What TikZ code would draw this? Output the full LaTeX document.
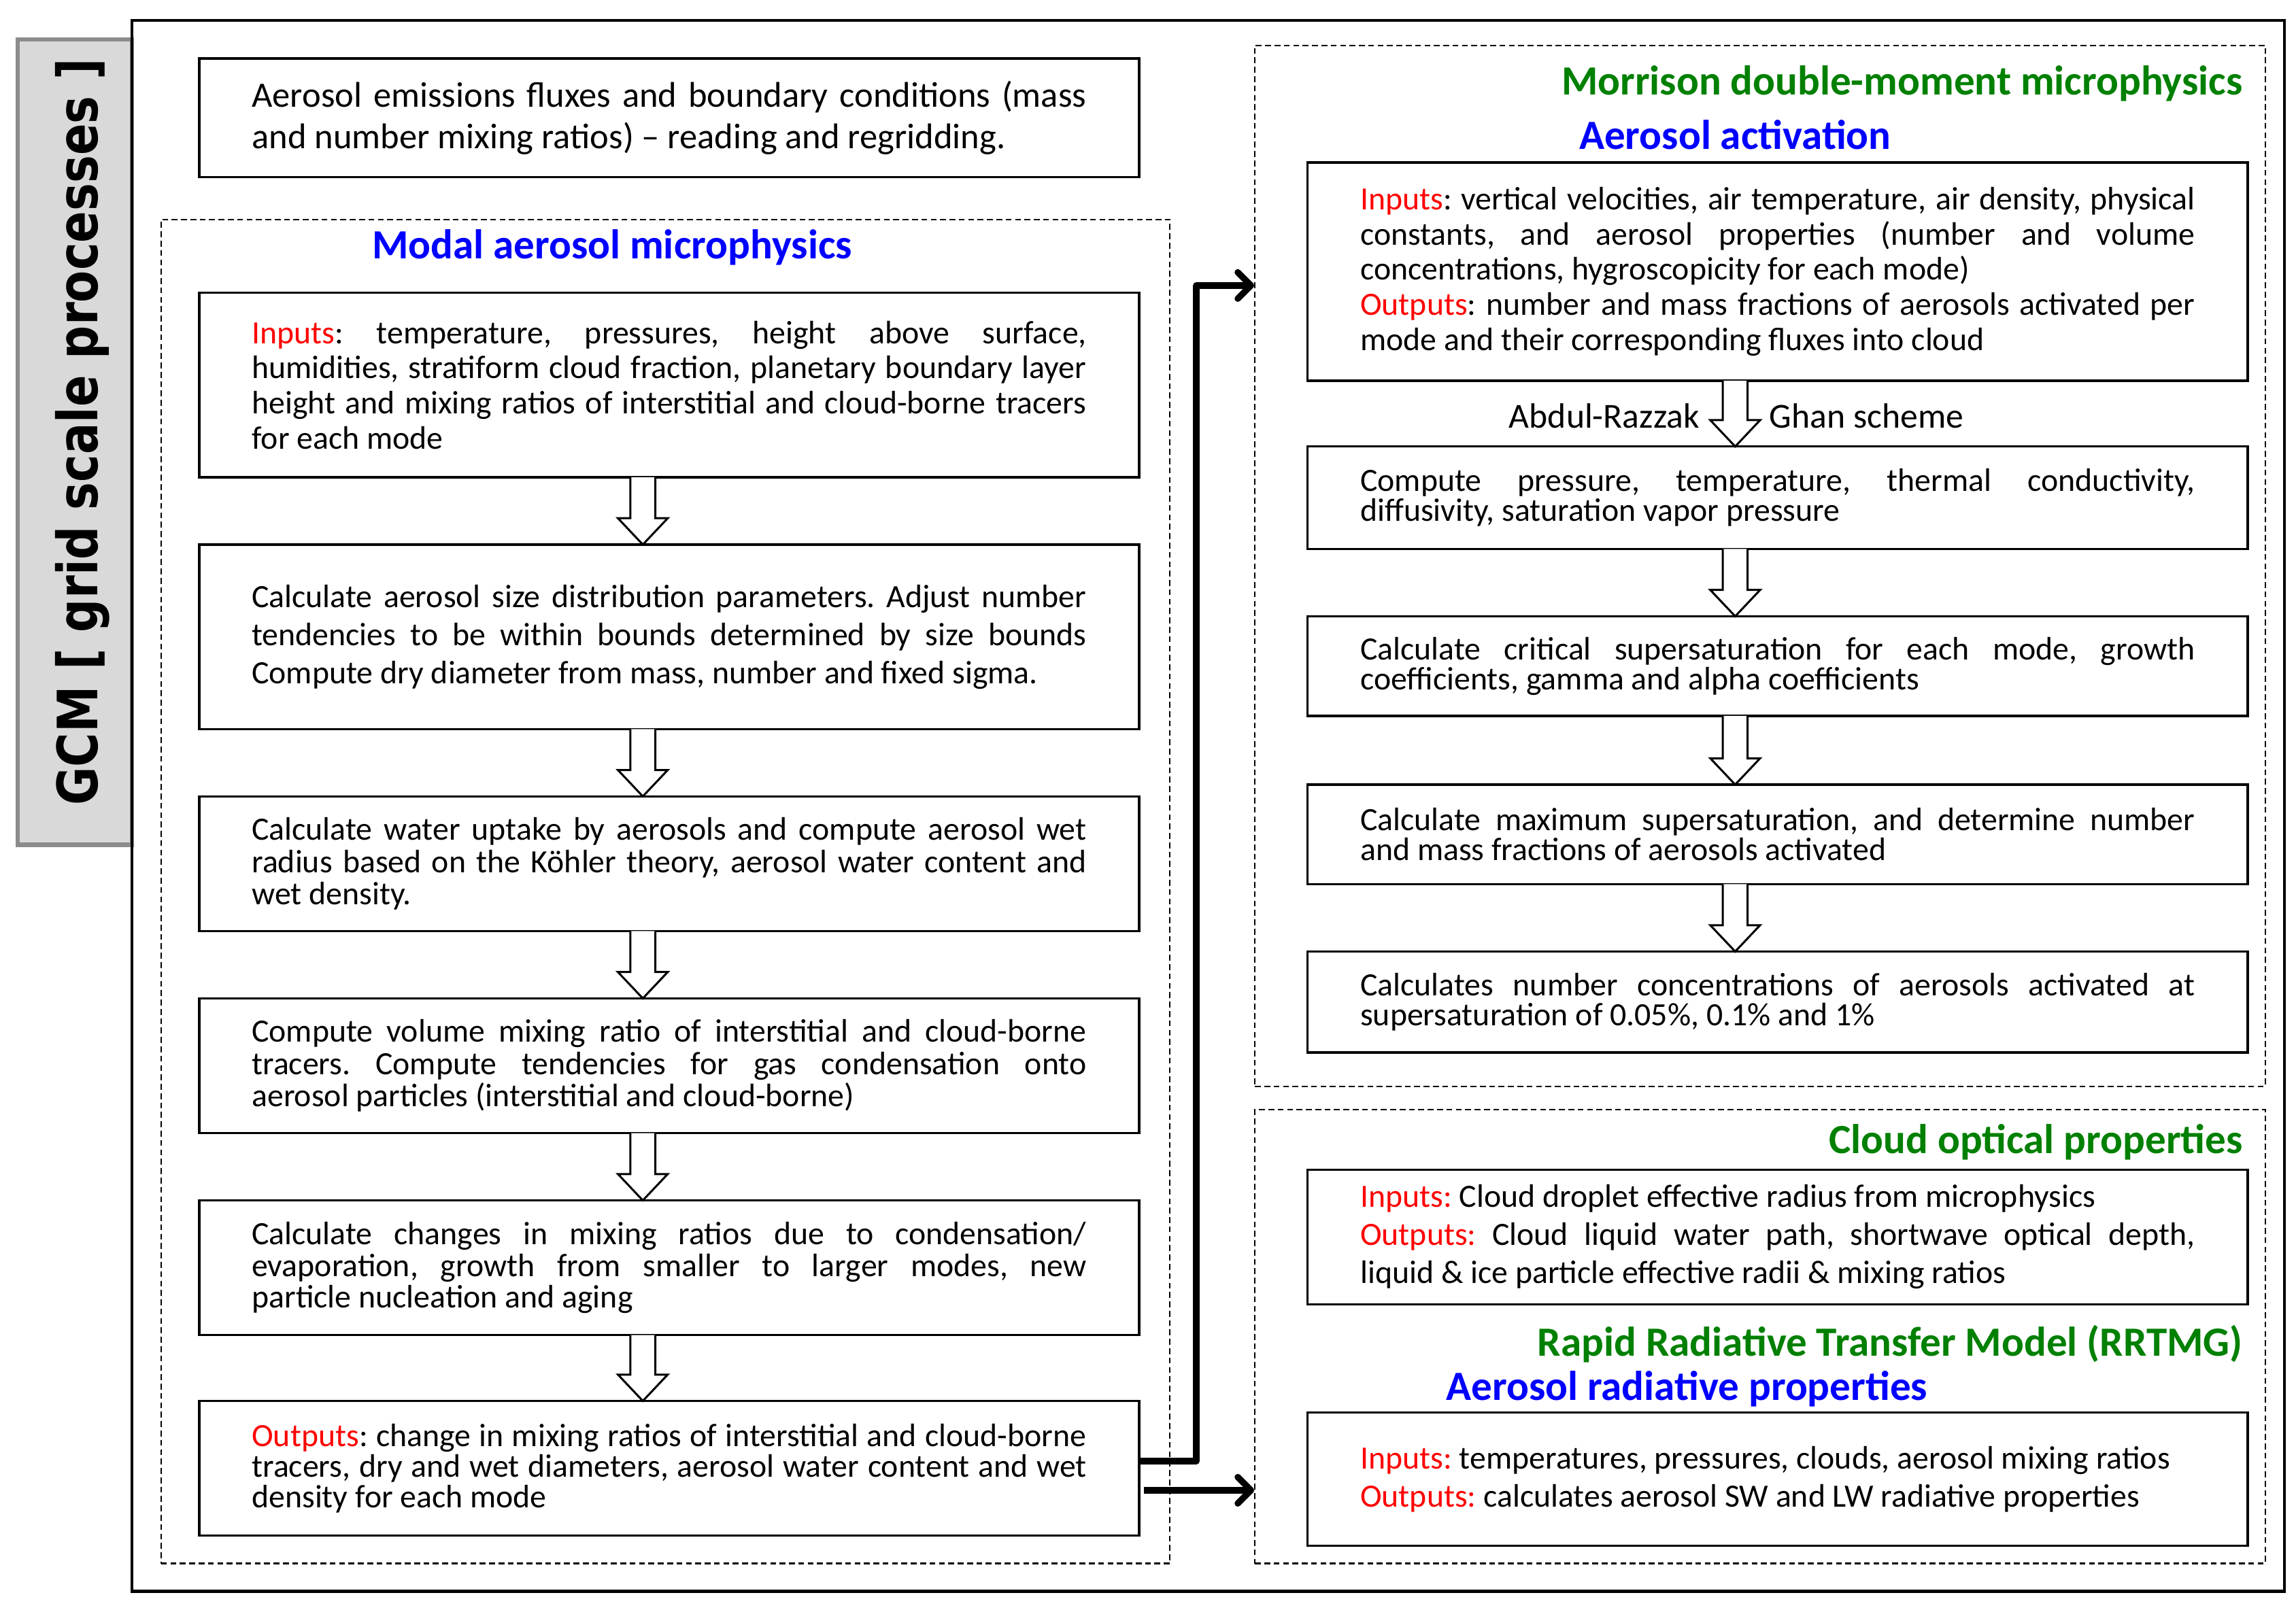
\documentclass[tikz,border=0pt]{standalone}
\usepackage{fontspec}
\setmainfont{Carlito}
\newfontfamily\tabfont[FakeStretch=0.84]{DejaVu Sans}
\usepackage{xcolor}
\usetikzlibrary{positioning,calc,arrows.meta}

\definecolor{headblue}{RGB}{0,0,255}
\definecolor{headgreen}{RGB}{0,128,0}
\definecolor{inred}{RGB}{255,0,0}
\definecolor{tabgray}{RGB}{217,217,217}
\definecolor{tabedge}{RGB}{140,140,140}

\hyphenpenalty=10000
\exhyphenpenalty=10000
\frenchspacing

\begin{document}
\begin{tikzpicture}[x=0.5pt, y=-0.5pt,
    procbox/.style={draw, line width=0.8pt, text width=285pt, inner xsep=18pt,
        inner ysep=2pt, outer sep=0pt, align=justify,
        font=\fontsize{11.1}{#1}\selectfont},
    dashbox/.style={draw, dash pattern=on 2pt off 1.2pt, line width=0.5pt},
    headtxt/.style={font=\fontsize{14.2}{16}\selectfont\bfseries, inner sep=0pt},
    sidetxt/.style={font=\fontsize{12}{14}\selectfont, inner sep=0pt},
    hollow/.style={draw, fill=white, line width=0.7pt},
    feed/.style={line width=2.2pt, line join=round,
        -{Straight Barb[length=4.5pt,width=9pt,round]}}
]

    \useasboundingbox (0,0) rectangle (1568,1099.4);

    % Side tab
    \node[draw=tabedge,
        line width=1.5pt,
        fill=tabgray,
        minimum width=39pt,
        minimum height=275pt
    ] (gcm) at (51,302) {};
    \node[rotate=90,
        inner sep=0pt,
        font=\tabfont\fontsize{19}{21}\selectfont\bfseries
    ] (gcmtext) at (56.5,295) {GCM [ grid scale processes ]};

    % Outer frame and dashed groups
    \node[draw, line width=1pt, minimum width=735pt, minimum height=536.5pt]
    (frame) at (825,550.5) {};

    \node[dashbox, minimum width=344.5pt, minimum height=459pt]
    (modal) at (454.5,609) {};
    \node[dashbox, minimum width=345pt, minimum height=355.5pt]
    (morrison) at (1202,386.5) {};
    \node[dashbox, minimum width=345pt, minimum height=155pt]
    (optics) at (1202,913) {};

    % Emissions
    \node[procbox=14, minimum height=40.5pt,
        font=\fontsize{12.2}{14}\selectfont] (emission) at (457,80.5)
    {Aerosol emissions fluxes and boundary conditions (mass\linebreak
     and number mixing ratios) – reading and regridding.};

    % Modal aerosol microphysics
    \node[headtxt, text=headblue] (modaltitle) at (418,169)
    {Modal aerosol microphysics};

    \node[procbox=12, minimum height=63pt] (inputs) at (457,263)
    {\textcolor{inred}{Inputs}: temperature, pressures, height above surface,\linebreak
     humidities, stratiform cloud fraction, planetary boundary layer\linebreak
     height and mixing ratios of interstitial and cloud-borne tracers\linebreak
     for each mode};

    \node[procbox=13, minimum height=63pt, below=23pt of inputs] (sizedist)
    {Calculate aerosol size distribution parameters. Adjust number\linebreak
     tendencies to be within bounds determined by size bounds\linebreak
     Compute dry diameter from mass, number and fixed sigma.};

    \node[procbox=11, minimum height=46pt, below=23pt of sizedist] (uptake)
    {Calculate water uptake by aerosols and compute aerosol wet\linebreak
     radius based on the Köhler theory, aerosol water content and\linebreak
     wet density.};

    \node[procbox=11, minimum height=46pt, below=23pt of uptake] (volmix)
    {Compute volume mixing ratio of interstitial and cloud-borne\linebreak
     tracers. Compute tendencies for gas condensation onto\linebreak
     aerosol particles (interstitial and cloud-borne)};

    \node[procbox=10.75, minimum height=46pt, below=23pt of volmix] (changes)
    {Calculate changes in mixing ratios due to condensation/\linebreak
     evaporation, growth from smaller to larger modes, new\linebreak
     particle nucleation and aging};

    \node[procbox=10.5, minimum height=46pt, below=22.5pt of changes] (outputs)
    {\textcolor{inred}{Outputs}: change in mixing ratios of interstitial and cloud-borne\linebreak
     tracers, dry and wet diameters, aerosol water content and wet\linebreak
     density for each mode};

    % Morrison microphysics
    \node[headtxt, text=headgreen, anchor=east] (morrisontitle) at (1532,57)
    {Morrison double-moment microphysics};
    \node[headtxt, text=headblue] (acttitle) at (1185,92) {Aerosol activation};

    \node[procbox=12, minimum height=74.5pt] (actin) at (1214,185.5)
    {\textcolor{inred}{Inputs}: vertical velocities, air temperature, air density, physical\linebreak
     constants, and aerosol properties (number and volume\linebreak
     concentrations, hygroscopicity for each mode)\\
     \textcolor{inred}{Outputs}: number and mass fractions of aerosols activated per\linebreak
     mode and their corresponding fluxes into cloud};

    \node[procbox=10.25, minimum height=35pt, below=22.5pt of actin] (thermo)
    {Compute pressure, temperature, thermal conductivity,\linebreak
     diffusivity, saturation vapor pressure};

    \node[procbox=10.25, minimum height=34pt, below=23pt of thermo] (critical)
    {Calculate critical supersaturation for each mode, growth\linebreak
     coefficients, gamma and alpha coefficients};

    \node[procbox=10.25, minimum height=34pt, below=23.5pt of critical] (maxsat)
    {Calculate maximum supersaturation, and determine number\linebreak
     and mass fractions of aerosols activated};

    \node[procbox=10.25, minimum height=34.5pt, below=23pt of maxsat] (ccn)
    {Calculates number concentrations of aerosols activated at\linebreak
     supersaturation of 0.05\%, 0.1\% and 1\%};

    \node[sidetxt, anchor=east] (abdul) at (1161,284) {Abdul-Razzak};
    \node[sidetxt, anchor=west] (ghan) at (1208,284) {Ghan scheme};

    % Cloud optics and radiation
    \node[headtxt, text=headgreen, anchor=east] (opticstitle) at (1532,780)
    {Cloud optical properties};

    \node[procbox=13, minimum height=46pt] (cloudopt) at (1214,845)
    {\textcolor{inred}{Inputs:} Cloud droplet effective radius from microphysics\\
     \textcolor{inred}{Outputs:} Cloud liquid water path, shortwave optical depth,\linebreak
     liquid \& ice particle effective radii \& mixing ratios};

    \node[headtxt, text=headgreen, anchor=east] (rrtmgtitle) at (1532,918)
    {Rapid Radiative Transfer Model (RRTMG)};
    \node[headtxt, text=headblue] (radtitle) at (1152,949)
    {Aerosol radiative properties};

    \node[procbox=13, minimum height=45.5pt] (radprop) at (1214,1010.5)
    {\textcolor{inred}{Inputs:} temperatures, pressures, clouds, aerosol mixing ratios\\
     \textcolor{inred}{Outputs:} calculates aerosol SW and LW radiative properties};

    % Hollow arrows
    \foreach \a/\b/\dx in {inputs/sizedist/-18, sizedist/uptake/-18,
        uptake/volmix/-18, volmix/changes/-18, changes/outputs/-18,
        actin/thermo/-29, thermo/critical/-29, critical/maxsat/-29,
        maxsat/ccn/-29}
    {
        \draw[hollow] ($(\a.south)+(\dx-8.5,0)$)
        -- ($(\b.north)+(\dx-8.5,-18)$)
        -- ($(\b.north)+(\dx-17,-18)$)
        -- ($(\b.north)+(\dx,0)$)
        -- ($(\b.north)+(\dx+17,-18)$)
        -- ($(\b.north)+(\dx+8.5,-18)$)
        -- ($(\a.south)+(\dx+8.5,0)$);
    }

    % Feeds to the right column
    \coordinate (bend) at (817,195);
    \coordinate (out1) at ([yshift=2.5pt]outputs.east);
    \coordinate (out2) at ([xshift=1.5pt,yshift=-7.5pt]outputs.east);

    \draw[feed] (out1) -| (bend) -- (bend -| morrison.west);
    \draw[feed] (out2) -- (out2 -| optics.west);

\end{tikzpicture}
\end{document}
